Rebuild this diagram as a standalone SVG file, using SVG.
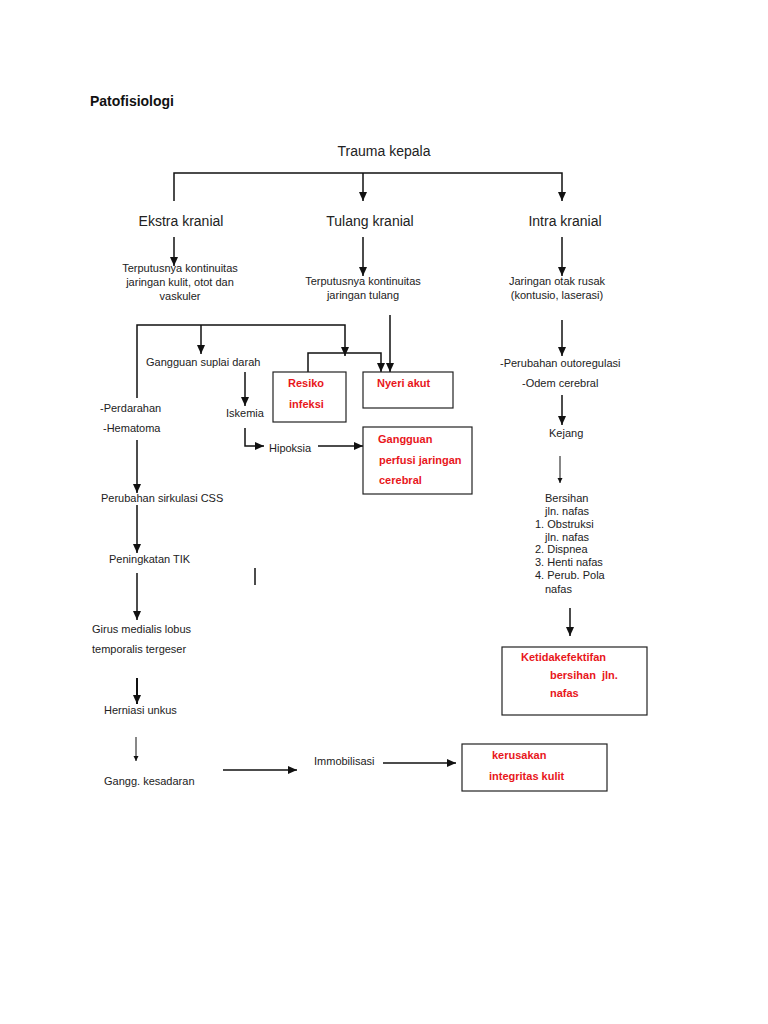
<svg xmlns="http://www.w3.org/2000/svg" width="768" height="1024" viewBox="0 0 768 1024">
<style>
text{font-family:"Liberation Sans",Arial,sans-serif;fill:#222}
.h{font-size:14px}
.s{font-size:11px}
.r{font-size:11px;font-weight:bold;fill:#e8161b}
.t{font-size:14px;font-weight:bold;fill:#111}
.c line,.c polyline{stroke:#111;stroke-width:1.5;fill:none}
.c .a{marker-end:url(#ah)}
.c .b{marker-end:url(#ahs);stroke-width:1}
.bx{fill:#fff;stroke:#222;stroke-width:1.2}
</style>
<defs>
<marker id="ah" markerUnits="userSpaceOnUse" markerWidth="10" markerHeight="10" refX="9" refY="5" orient="auto"><path d="M0,1 L9,5 L0,9 Z" fill="#111"/></marker>
<marker id="ahs" markerUnits="userSpaceOnUse" markerWidth="6" markerHeight="6" refX="5" refY="3" orient="auto"><path d="M0,0.5 L5,3 L0,5.5 Z" fill="#111"/></marker>
</defs>
<rect width="768" height="1024" fill="#fff"/>
<text class="t" x="90" y="106">Patofisiologi</text>

<g class="c" id="connectors">
<polyline points="174,201 174,173 562,173 562,201" class="a"/>
<line x1="363" y1="173" x2="363" y2="201" class="a"/>
<line x1="174" y1="237" x2="174" y2="266" class="a"/>
<line x1="363" y1="237" x2="363" y2="276" class="a"/>
<line x1="562" y1="237" x2="562" y2="276" class="a"/>
<polyline points="137,398 137,325 345,325 345,356" class="a"/>
<line x1="201" y1="325" x2="201" y2="354" class="a"/>
<polyline points="308,372 308,353 381,353 381,372" class="a"/>
<line x1="390" y1="315" x2="390" y2="372" class="a"/>
<line x1="245" y1="372" x2="245" y2="406" class="a"/>
<polyline points="245,428 245,446 264,446" class="a"/>
<line x1="318" y1="446" x2="363" y2="446" class="a"/>
<line x1="137" y1="440" x2="137" y2="493" class="a"/>
<line x1="137" y1="505" x2="137" y2="553" class="a"/>
<line x1="255" y1="568" x2="255" y2="585"/>
<line x1="137" y1="573" x2="137" y2="620" class="a"/>
<line x1="137" y1="678" x2="137" y2="704" class="a" style="stroke-width:2"/>
<line x1="136" y1="737" x2="136" y2="761" class="b"/>
<line x1="223" y1="770" x2="297" y2="770" class="a"/>
<line x1="383" y1="763" x2="456" y2="763" class="a"/>
<line x1="562" y1="320" x2="562" y2="356" class="a"/>
<line x1="562" y1="395" x2="562" y2="425" class="a"/>
<line x1="560" y1="456" x2="560" y2="483" class="b"/>
<line x1="570" y1="608" x2="570" y2="636" class="a"/>
</g>

<g id="trauma"><text class="h" x="384" y="156" text-anchor="middle">Trauma kepala</text></g>
<g id="ekstra"><text class="h" x="181" y="226" text-anchor="middle">Ekstra kranial</text></g>
<g id="tulang"><text class="h" x="370" y="226" text-anchor="middle">Tulang kranial</text></g>
<g id="intra"><text class="h" x="565" y="226" text-anchor="middle">Intra kranial</text></g>

<g id="ekstra-akibat" class="s">
<text class="s" x="180" y="272" text-anchor="middle">Terputusnya kontinuitas</text>
<text class="s" x="180" y="286" text-anchor="middle">jaringan kulit, otot dan</text>
<text class="s" x="180" y="300" text-anchor="middle">vaskuler</text>
</g>
<g id="tulang-akibat">
<text class="s" x="363" y="285" text-anchor="middle">Terputusnya kontinuitas</text>
<text class="s" x="363" y="299" text-anchor="middle">jaringan tulang</text>
</g>
<g id="intra-akibat">
<text class="s" x="557" y="285" text-anchor="middle">Jaringan otak rusak</text>
<text class="s" x="557" y="299" text-anchor="middle">(kontusio, laserasi)</text>
</g>

<g id="suplai"><text class="s" x="146" y="366">Gangguan suplai darah</text></g>
<g id="iskemia"><text class="s" x="226" y="417">Iskemia</text></g>
<g id="hipoksia"><text class="s" x="269" y="452">Hipoksia</text></g>
<g id="perdarahan">
<text class="s" x="100" y="412">-Perdarahan</text>
<text class="s" x="103" y="432">-Hematoma</text>
</g>
<g id="resiko">
<rect class="bx" x="273" y="372" width="73" height="50"/>
<text class="r" x="288" y="387">Resiko</text>
<text class="r" x="289" y="408">infeksi</text>
</g>
<g id="nyeri">
<rect class="bx" x="363" y="372" width="90" height="36"/>
<text class="r" x="377" y="387">Nyeri akut</text>
</g>
<g id="perfusi">
<rect class="bx" x="363" y="427" width="109" height="67"/>
<text class="r" x="378" y="443">Gangguan</text>
<text class="r" x="379" y="464">perfusi jaringan</text>
<text class="r" x="379" y="484">cerebral</text>
</g>

<g id="css"><text class="s" x="101" y="502">Perubahan sirkulasi CSS</text></g>
<g id="tik"><text class="s" x="109" y="563">Peningkatan TIK</text></g>
<g id="girus">
<text class="s" x="92" y="633">Girus medialis lobus</text>
<text class="s" x="92" y="653">temporalis tergeser</text>
</g>
<g id="herniasi"><text class="s" x="104" y="714">Herniasi unkus</text></g>
<g id="kesadaran"><text class="s" x="104" y="785">Gangg. kesadaran</text></g>
<g id="immobilisasi"><text class="s" x="314" y="765">Immobilisasi</text></g>
<g id="kulit">
<rect class="bx" x="462" y="744" width="145" height="47"/>
<text class="r" x="492" y="759">kerusakan</text>
<text class="r" x="489" y="780">integritas kulit</text>
</g>

<g id="outoregulasi">
<text class="s" x="500" y="367">-Perubahan outoregulasi</text>
<text class="s" x="522" y="387">-Odem cerebral</text>
</g>
<g id="kejang"><text class="s" x="549" y="437">Kejang</text></g>
<g id="bersihan">
<text class="s" x="545" y="502">Bersihan</text>
<text class="s" x="545" y="515">jln. nafas</text>
<text class="s" x="535" y="528">1. Obstruksi</text>
<text class="s" x="545" y="541">jln. nafas</text>
<text class="s" x="535" y="553">2. Dispnea</text>
<text class="s" x="535" y="566">3. Henti nafas</text>
<text class="s" x="535" y="579">4. Perub. Pola</text>
<text class="s" x="545" y="593">nafas</text>
</g>
<g id="ketidakefektifan">
<rect class="bx" x="502" y="647" width="145" height="68"/>
<text class="r" x="521" y="661">Ketidakefektifan</text>
<text class="r" x="550" y="679" xml:space="preserve">bersihan  jln.</text>
<text class="r" x="550" y="697">nafas</text>
</g>
</svg>
